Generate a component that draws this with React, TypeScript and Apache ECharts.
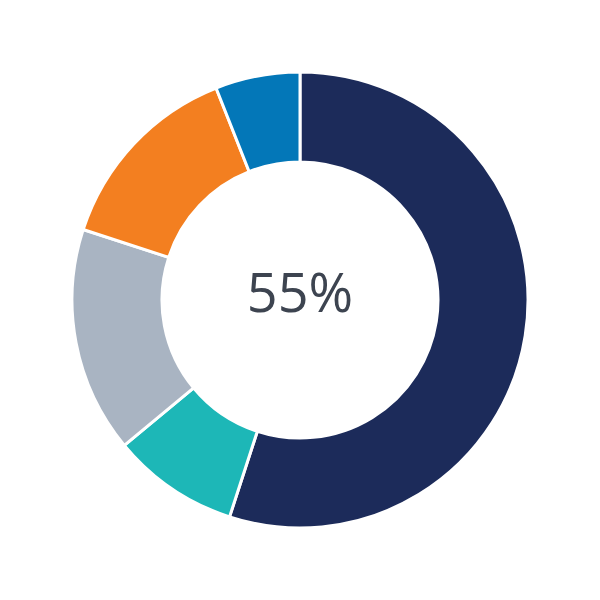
import React, { useEffect, useRef } from "react";
import * as echarts from "echarts";

const categories = ["A", "B", "C", "D", "E"];
const values = [55, 9, 16, 14, 6];
const colors = ["#1c2b5a", "#1db7b7", "#a9b4c2", "#f37f20", "#0377b8"];
const centerLabel = "55%";

export default function App() {
  const ref = useRef<HTMLDivElement>(null);
  useEffect(() => {
    const chart = echarts.init(ref.current!, null, { renderer: "svg" });
    chart.setOption({
      animation: false,
      graphic: [
        {
          type: "text",
          left: "center",
          top: 264,
          style: {
            text: centerLabel,
            fontSize: 54,
            fontFamily: "'Open Sans', sans-serif",
            fill: "#3d4450",
          },
        },
      ],
      series: [
        {
          type: "pie",
          radius: [138, 228],
          center: [300, 300],
          startAngle: 90,
          clockwise: true,
          label: { show: false },
          labelLine: { show: false },
          emphasis: { disabled: true },
          itemStyle: { borderColor: "#ffffff", borderWidth: 3 },
          data: categories.map((c, i) => ({
            name: c,
            value: values[i],
            itemStyle: { color: colors[i] },
          })),
        },
      ],
    });
    return () => chart.dispose();
  }, []);
  return (
    <div
      ref={ref}
      style={{ width: 600, height: 600, position: "absolute", left: 0, top: 0 }}
    />
  );
}
